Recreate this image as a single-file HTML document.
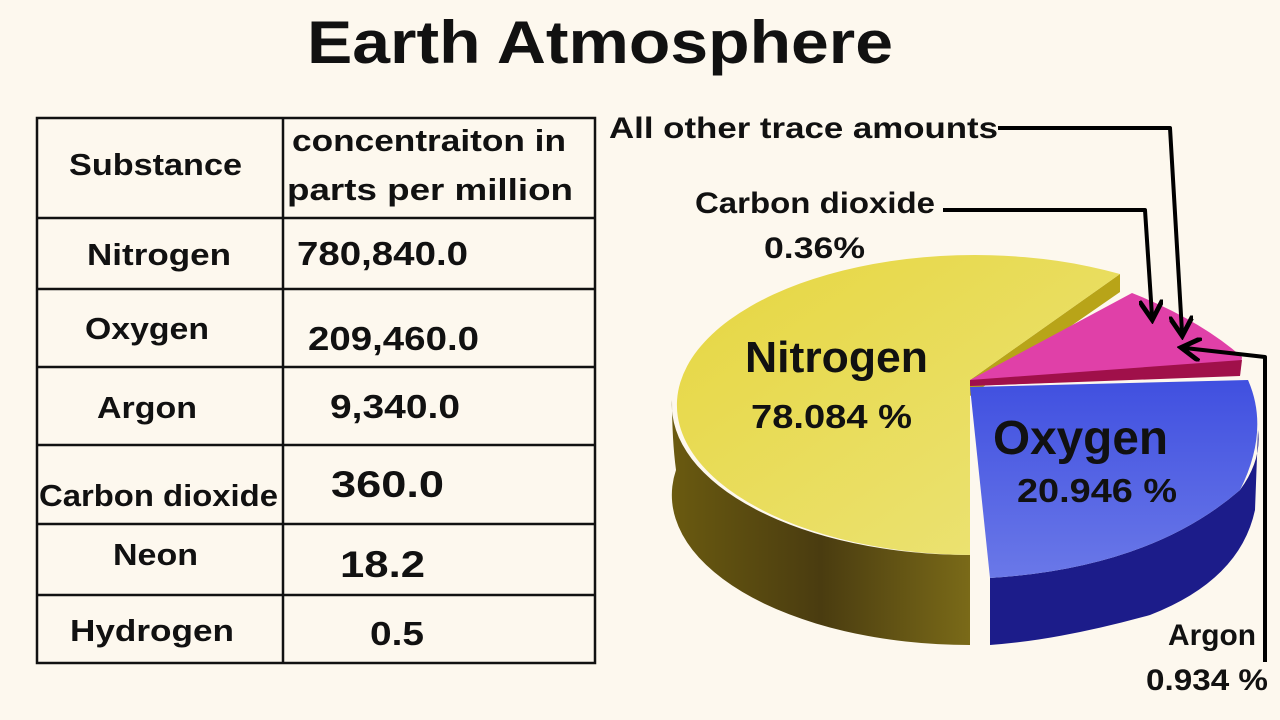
<!DOCTYPE html>
<html><head><meta charset="utf-8"><style>
html,body{margin:0;padding:0;background:#fdf8ee;}
svg{display:block;}
text{font-family:"Liberation Sans","DejaVu Sans",sans-serif;fill:#111;}
</style></head><body>
<svg width="1280" height="720" viewBox="0 0 1280 720" xmlns="http://www.w3.org/2000/svg">
<defs>
<linearGradient id="ny" x1="0" y1="0" x2="1" y2="1"><stop offset="0" stop-color="#e6d640"/><stop offset="1" stop-color="#ece47a"/></linearGradient>
<linearGradient id="ns" x1="0" y1="0" x2="1" y2="0"><stop offset="0" stop-color="#6a5a10"/><stop offset="0.5" stop-color="#4a3c10"/><stop offset="1" stop-color="#7a6a18"/></linearGradient>
<linearGradient id="ob" x1="0" y1="0" x2="0" y2="1"><stop offset="0" stop-color="#4050e0"/><stop offset="1" stop-color="#6a78e8"/></linearGradient>
<marker id="ah" markerWidth="6" markerHeight="6" refX="4" refY="3" orient="auto" markerUnits="strokeWidth"><path d="M0,0 L5,3 L0,6" fill="none" stroke="#000" stroke-width="1.2"/></marker>
</defs>
<rect width="1280" height="720" fill="#fdf8ee"/>
<text x="307" y="63" font-size="60" font-weight="bold" textLength="586" lengthAdjust="spacingAndGlyphs">Earth Atmosphere</text>

<g stroke="#111" stroke-width="2.5" fill="none">
<rect x="37" y="118" width="558" height="545"/>
<line x1="283" y1="118" x2="283" y2="663"/>
<line x1="37" y1="218" x2="595" y2="218"/>
<line x1="37" y1="289" x2="595" y2="289"/>
<line x1="37" y1="367" x2="595" y2="367"/>
<line x1="37" y1="445" x2="595" y2="445"/>
<line x1="37" y1="524" x2="595" y2="524"/>
<line x1="37" y1="595" x2="595" y2="595"/>
</g>
<g font-size="31" font-weight="bold">
<text x="69" y="175" textLength="173" lengthAdjust="spacingAndGlyphs">Substance</text>
<text x="292" y="151" textLength="274" lengthAdjust="spacingAndGlyphs">concentraiton in</text>
<text x="287" y="200" textLength="286" lengthAdjust="spacingAndGlyphs">parts per million</text>
<text x="87" y="265" textLength="144" lengthAdjust="spacingAndGlyphs">Nitrogen</text>
<text x="85" y="339" textLength="124" lengthAdjust="spacingAndGlyphs">Oxygen</text>
<text x="97" y="418" textLength="100" lengthAdjust="spacingAndGlyphs">Argon</text>
<text x="39" y="506" textLength="239" lengthAdjust="spacingAndGlyphs">Carbon dioxide</text>
<text x="113" y="565" textLength="85" lengthAdjust="spacingAndGlyphs">Neon</text>
<text x="70" y="641" textLength="164" lengthAdjust="spacingAndGlyphs">Hydrogen</text>
</g>
<g font-size="33" font-weight="bold">
<text x="297" y="265" textLength="171" lengthAdjust="spacingAndGlyphs">780,840.0</text>
<text x="308" y="350" textLength="171" lengthAdjust="spacingAndGlyphs">209,460.0</text>
<text x="330" y="418" textLength="130" lengthAdjust="spacingAndGlyphs">9,340.0</text>
<text x="331" y="497" font-size="37" textLength="113" lengthAdjust="spacingAndGlyphs">360.0</text>
<text x="340" y="577" font-size="37" textLength="85" lengthAdjust="spacingAndGlyphs">18.2</text>
<text x="370" y="645" textLength="54" lengthAdjust="spacingAndGlyphs">0.5</text>
</g>

<path d="M672,400 A298,150 0 0 0 970,555 L970,645 A298,150 0 0 1 676,470 Q672,440 672,400 Z" fill="url(#ns)"/>
<path d="M970,380 L1120,274 L1120,292 L970,396 Z" fill="#b8a418"/>
<path d="M970,380 L1120,274 A298,150 0 1 0 970,555 Z" fill="url(#ny)"/>
<path d="M970,380 L1132,293 Q1200,320 1242,357 L1240,375 L970,386 Z" fill="#e040a8"/>
<path d="M970,380 L1242,360 L1240,376 L970,386 Z" fill="#a0104a"/>
<path d="M990,578 Q1150,568 1240,490 Q1262,460 1258,430 L1255,510 Q1240,580 1150,615 Q1060,640 990,645 Z" fill="#1c1c8a"/>
<path d="M970,387 L1248,380 Q1270,430 1240,490 Q1150,568 990,578 Z" fill="url(#ob)"/>

<g font-weight="bold">
<text x="745" y="372" font-size="44" textLength="183" lengthAdjust="spacingAndGlyphs">Nitrogen</text>
<text x="751" y="428" font-size="33" textLength="161" lengthAdjust="spacingAndGlyphs">78.084 %</text>
<text x="993" y="454" font-size="48" textLength="175" lengthAdjust="spacingAndGlyphs">Oxygen</text>
<text x="1017" y="502" font-size="33" textLength="160" lengthAdjust="spacingAndGlyphs">20.946 %</text>
<text x="609" y="138" font-size="30" textLength="389" lengthAdjust="spacingAndGlyphs">All other trace amounts</text>
<text x="695" y="213" font-size="30" textLength="240" lengthAdjust="spacingAndGlyphs">Carbon dioxide</text>
<text x="764" y="258" font-size="30" textLength="101" lengthAdjust="spacingAndGlyphs">0.36%</text>
<text x="1168" y="645" font-size="30" textLength="88" lengthAdjust="spacingAndGlyphs">Argon</text>
<text x="1146" y="690" font-size="30" textLength="122" lengthAdjust="spacingAndGlyphs">0.934 %</text>
</g>

<g stroke="#000" stroke-width="4" fill="none" stroke-linejoin="round">
<path d="M998,128 L1170,128 L1182,332" marker-end="url(#ah)"/>
<path d="M943,210 L1145,210 L1152,316" marker-end="url(#ah)"/>
<path d="M1265,662 L1265,357 L1185,348" marker-end="url(#ah)"/>
</g>
</svg>
</body></html>
